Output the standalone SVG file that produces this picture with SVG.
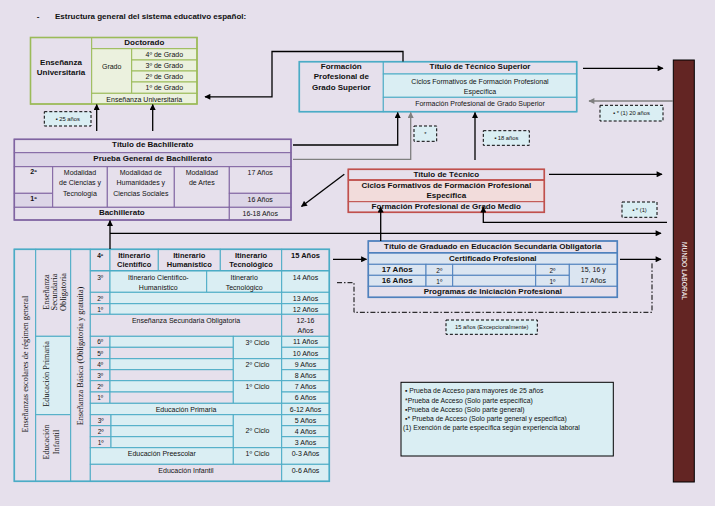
<svg xmlns="http://www.w3.org/2000/svg" width="715" height="506" viewBox="0 0 715 506">
<defs>
<style>
text{font-family:"Liberation Sans",Arial,sans-serif;fill:#111;dominant-baseline:central;text-anchor:middle;font-size:7px}
.b{font-weight:bold}
.h{font-size:8px;font-weight:bold}
.sm{font-size:6.5px}
.xs{font-size:5.8px}
.serif{font-family:"Liberation Serif","Times New Roman",serif;font-size:8.3px}
.bg{fill:#E6E0EC}
.gr{fill:#EBF1DE}
.cy{fill:#DAEEF3}
.lp{fill:#DCD5E7}
.pk{fill:#F2DCDB}
.lb{fill:#DBE5F1}
.g rect{stroke:#9BBB59;stroke-width:1}
.t rect{stroke:#4BACC6;stroke-width:1}
.p rect{stroke:#8064A2;stroke-width:1}
.r rect{stroke:#C0504D;stroke-width:1}
.u rect{stroke:#4F81BD;stroke-width:1}
.outer{fill:none;stroke-width:1.6 !important}
.dl rect{fill:#DAEEF3;stroke:#000;stroke-width:1;stroke-dasharray:3,2}
.c path{fill:none;stroke:#000;stroke-width:1.3}
.c path.gy{stroke:#7F7F7F}
.c path.dd{stroke-dasharray:5,2,1.5,2;stroke-width:1}
.la{text-anchor:start;font-size:6.8px}
</style>
<marker id="ah" viewBox="0 0 10 10" refX="9" refY="5" markerWidth="7" markerHeight="6" markerUnits="userSpaceOnUse" orient="auto"><path d="M0,0 L10,5 L0,10 z" fill="#000"/></marker>
<marker id="ahg" viewBox="0 0 10 10" refX="9" refY="5" markerWidth="7" markerHeight="6" markerUnits="userSpaceOnUse" orient="auto"><path d="M0,0 L10,5 L0,10 z" fill="#7F7F7F"/></marker>
</defs>
<rect x="0" y="0" width="715" height="506" class="bg"/>

<g id="titulo">
<text x="38" y="16" class="b" style="font-size:8px">-</text>
<text x="55" y="16" class="b" style="font-size:8px;text-anchor:start">Estructura general del sistema educativo español:</text>
</g>

<g id="universidad" class="g">
<rect x="30.5" y="37.5" width="61.2" height="66.5" class="bg"/>
<rect x="91.7" y="37.5" width="105.3" height="11.2" class="bg"/>
<rect x="91.7" y="48.7" width="40" height="44.6" class="gr"/>
<rect x="131.7" y="48.7" width="65.3" height="11.3" class="gr"/>
<rect x="131.7" y="60" width="65.3" height="11" class="gr"/>
<rect x="131.7" y="71" width="65.3" height="11" class="gr"/>
<rect x="131.7" y="82" width="65.3" height="11.3" class="gr"/>
<rect x="91.7" y="93.3" width="105.3" height="10.7" class="gr"/>
<rect x="30.5" y="37.5" width="166.5" height="66.5" class="outer"/>
<text x="61" y="62.7" class="h">Enseñanza</text>
<text x="61" y="72.5" class="h">Universitaria</text>
<text x="144.3" y="42.8" class="h">Doctorado</text>
<text x="111.7" y="66">Grado</text>
<text x="164.3" y="54.5">4º de Grado</text>
<text x="164.3" y="65.6">3º de Grado</text>
<text x="164.3" y="76.6">2º de Grado</text>
<text x="164.3" y="87.7">1º de Grado</text>
<text x="144.3" y="99">Enseñanza Universitaria</text>
</g>

<g id="fp-superior" class="t">
<rect x="299.3" y="61.7" width="84" height="50" class="bg"/>
<rect x="383.3" y="61.7" width="193.4" height="12.3" class="bg"/>
<rect x="383.3" y="74" width="193.4" height="23.3" class="cy"/>
<rect x="383.3" y="97.3" width="193.4" height="14.4" class="bg"/>
<rect x="299.3" y="61.7" width="277.4" height="50" class="outer"/>
<text x="341.3" y="66.2" class="h">Formación</text>
<text x="341.3" y="76.8" class="h">Profesional de</text>
<text x="341.3" y="87.4" class="h">Grado Superior</text>
<text x="480" y="66.5" class="h">Título de Técnico Superior</text>
<text x="480" y="81.7">Ciclos Formativos de Formación  Profesional</text>
<text x="480" y="91.7">Específica</text>
<text x="480" y="103.5">Formación Profesional de Grado Superior</text>
</g>

<g id="bachillerato" class="p">
<rect x="14.3" y="139.3" width="276.7" height="13.4" class="bg"/>
<rect x="14.3" y="152.7" width="276.7" height="14" class="lp"/>
<rect x="14.3" y="166.7" width="38.4" height="26.6" class="bg"/>
<rect x="14.3" y="193.3" width="38.4" height="14" class="lp"/>
<rect x="52.7" y="166.7" width="54.6" height="40.6" class="bg"/>
<rect x="107.3" y="166.7" width="67" height="40.6" class="bg"/>
<rect x="174.3" y="166.7" width="55" height="40.6" class="bg"/>
<rect x="229.3" y="166.7" width="61.7" height="26.6" class="bg"/>
<rect x="229.3" y="193.3" width="61.7" height="14" class="lp"/>
<rect x="14.3" y="207.3" width="215" height="12.7" class="bg"/>
<rect x="229.3" y="207.3" width="61.7" height="12.7" class="bg"/>
<rect x="14.3" y="139.3" width="276.7" height="80.7" class="outer"/>
<text x="152.7" y="144.5" class="h">Título de Bachillerato</text>
<text x="152.7" y="158.8" class="h">Prueba General  de Bachillerato</text>
<text x="33.5" y="171.7" class="b">2º</text>
<text x="33.5" y="198.7" class="b">1º</text>
<text x="80" y="172.7">Modalidad</text>
<text x="80" y="182.7">de Ciencias y</text>
<text x="80" y="193">Tecnología</text>
<text x="140.8" y="172.7">Modalidad de</text>
<text x="140.8" y="182.7">Humanidades y</text>
<text x="140.8" y="193">Ciencias Sociales</text>
<text x="201.8" y="172.7">Modalidad</text>
<text x="201.8" y="182.7">de Artes</text>
<text x="260.2" y="172.7">17 Años</text>
<text x="260.2" y="199">16 Años</text>
<text x="121.8" y="212.8" class="h">Bachillerato</text>
<text x="260.2" y="213">16-18 Años</text>
</g>

<g id="fp-medio" class="r">
<rect x="348.3" y="169.3" width="196" height="10.7" class="bg"/>
<rect x="348.3" y="180.3" width="196" height="21.4" class="pk"/>
<rect x="348.3" y="201.7" width="196" height="10.6" class="bg"/>
<rect x="348.3" y="179.2" width="196" height="1.4" style="fill:#C0504D;stroke:none"/>
<rect x="348.3" y="169.3" width="196" height="43" class="outer"/>
<text x="446.3" y="174.2" class="h">Título de Técnico</text>
<text x="446.3" y="185.5" class="h">Ciclos Formativos de Formación Profesional</text>
<text x="446.3" y="195.8" class="h">Específica</text>
<text x="446.3" y="206.8" class="h">Formación Profesional de Grado Medio</text>
</g>

<g id="pcpi" class="u">
<rect x="368.3" y="241" width="249" height="11.7" class="bg"/>
<rect x="368.3" y="253" width="249" height="11.3" class="lb"/>
<rect x="368.3" y="264.3" width="57.7" height="11" class="lb"/>
<rect x="368.3" y="275.3" width="57.7" height="11" class="lb"/>
<rect x="426" y="264.3" width="26.7" height="11" class="lb"/>
<rect x="426" y="275.3" width="26.7" height="11" class="lb"/>
<rect x="452.7" y="264.3" width="83" height="11" class="lb"/>
<rect x="452.7" y="275.3" width="83" height="11" class="lb"/>
<rect x="535.7" y="264.3" width="33.6" height="11" class="lb"/>
<rect x="535.7" y="275.3" width="33.6" height="11" class="lb"/>
<rect x="569.3" y="264.3" width="48" height="22" class="lb"/>
<rect x="368.3" y="286.3" width="249" height="11" class="bg"/>
<rect x="368.3" y="252" width="249" height="1.4" style="fill:#4F81BD;stroke:none"/>
<rect x="368.3" y="241" width="249" height="56.3" class="outer"/>
<text x="492.8" y="246.3" class="h">Título de Graduado en Educación Secundaria Obligatoria</text>
<text x="492.8" y="258.5" class="h">Certificado Profesional</text>
<text x="397.2" y="269.5" class="h">17 Años</text>
<text x="397.2" y="280.5" class="h">16 Años</text>
<text x="439.3" y="270" class="sm">2º</text>
<text x="439.3" y="281" class="sm">1º</text>
<text x="552.5" y="270" class="sm">2º</text>
<text x="552.5" y="281" class="sm">1º</text>
<text x="593.3" y="269.5">15, 16 y</text>
<text x="593.3" y="280.5">17 Años</text>
<text x="492.8" y="291.5" class="h">Programas de Iniciación Profesional</text>
</g>

<g id="ensenanzas-escolares" class="t">
<rect x="14.3" y="249.3" width="21.4" height="232" class="bg"/>
<rect x="35.7" y="249.3" width="35" height="87" class="bg"/>
<rect x="35.7" y="336.3" width="35" height="78.4" class="cy"/>
<rect x="35.7" y="414.7" width="35" height="66.6" class="bg"/>
<rect x="70.7" y="249.3" width="19.6" height="232" class="bg"/>
<!-- 4º ESO -->
<rect x="90.3" y="249.3" width="19.7" height="21.4" class="bg"/>
<rect x="110" y="249.3" width="48.3" height="21.4" class="bg"/>
<rect x="158.3" y="249.3" width="62" height="21.4" class="bg"/>
<rect x="220.3" y="249.3" width="61.4" height="21.4" class="bg"/>
<rect x="281.7" y="249.3" width="47.6" height="21.4" class="bg"/>
<!-- 3º ESO -->
<rect x="90.3" y="270.7" width="19.7" height="21.6" class="bg"/>
<rect x="110" y="270.7" width="96.7" height="21.6" class="cy"/>
<rect x="206.7" y="270.7" width="75" height="21.6" class="cy"/>
<rect x="281.7" y="270.7" width="47.6" height="21.6" class="cy"/>
<rect x="90.3" y="270" width="239" height="1.4" style="fill:#4BACC6;stroke:none"/>
<!-- 2º 1º ESO -->
<rect x="90.3" y="292.3" width="19.7" height="11.4" class="bg"/>
<rect x="110" y="292.3" width="171.7" height="11.4" class="cy"/>
<rect x="281.7" y="292.3" width="47.6" height="11.4" class="cy"/>
<rect x="90.3" y="303.7" width="19.7" height="10.6" class="bg"/>
<rect x="110" y="303.7" width="171.7" height="10.6" class="cy"/>
<rect x="281.7" y="303.7" width="47.6" height="10.6" class="cy"/>
<rect x="90.3" y="314.3" width="191.4" height="22" class="bg"/>
<rect x="281.7" y="314.3" width="47.6" height="22" class="bg"/>
<!-- Primaria -->
<rect x="90.3" y="336.3" width="19.7" height="11" class="bg"/>
<rect x="110" y="336.3" width="123.3" height="11" class="cy"/>
<rect x="90.3" y="347.3" width="19.7" height="11.4" class="bg"/>
<rect x="110" y="347.3" width="123.3" height="11.4" class="bg"/>
<rect x="90.3" y="358.7" width="19.7" height="11" class="bg"/>
<rect x="110" y="358.7" width="123.3" height="11" class="cy"/>
<rect x="90.3" y="369.7" width="19.7" height="11" class="bg"/>
<rect x="110" y="369.7" width="123.3" height="11" class="bg"/>
<rect x="90.3" y="380.7" width="19.7" height="11.3" class="bg"/>
<rect x="110" y="380.7" width="123.3" height="11.3" class="cy"/>
<rect x="90.3" y="392" width="19.7" height="11.3" class="bg"/>
<rect x="110" y="392" width="123.3" height="11.3" class="bg"/>
<rect x="233.3" y="336.3" width="48.4" height="22.4" class="cy"/>
<rect x="233.3" y="358.7" width="48.4" height="22" class="cy"/>
<rect x="233.3" y="380.7" width="48.4" height="22.6" class="cy"/>
<rect x="281.7" y="336.3" width="47.6" height="11" class="cy"/>
<rect x="281.7" y="347.3" width="47.6" height="11.4" class="cy"/>
<rect x="281.7" y="358.7" width="47.6" height="11" class="cy"/>
<rect x="281.7" y="369.7" width="47.6" height="11" class="cy"/>
<rect x="281.7" y="380.7" width="47.6" height="11.3" class="cy"/>
<rect x="281.7" y="392" width="47.6" height="11.3" class="cy"/>
<rect x="90.3" y="403.3" width="191.4" height="11.4" class="cy"/>
<rect x="281.7" y="403.3" width="47.6" height="11.4" class="cy"/>
<!-- Infantil -->
<rect x="90.3" y="414.7" width="20.7" height="11" class="bg"/>
<rect x="111" y="414.7" width="122.3" height="11" class="cy"/>
<rect x="90.3" y="425.7" width="20.7" height="11" class="bg"/>
<rect x="111" y="425.7" width="122.3" height="11" class="cy"/>
<rect x="90.3" y="436.7" width="20.7" height="11" class="bg"/>
<rect x="111" y="436.7" width="122.3" height="11" class="cy"/>
<rect x="233.3" y="414.7" width="48.4" height="33" class="cy"/>
<rect x="281.7" y="414.7" width="47.6" height="11" class="cy"/>
<rect x="281.7" y="425.7" width="47.6" height="11" class="cy"/>
<rect x="281.7" y="436.7" width="47.6" height="11" class="cy"/>
<rect x="90.3" y="447.7" width="143" height="16.6" class="cy"/>
<rect x="233.3" y="447.7" width="48.4" height="16.6" class="cy"/>
<rect x="281.7" y="447.7" width="47.6" height="16.6" class="cy"/>
<rect x="90.3" y="464.3" width="191.4" height="17" class="bg"/>
<rect x="281.7" y="464.3" width="47.6" height="17" class="cy"/>
<rect x="14.3" y="249.3" width="315" height="232" class="outer"/>

<text class="serif" transform="translate(25,364.2) rotate(-90)">Enseñanzas escolares de régimen general</text>
<text class="serif" transform="translate(46.3,292) rotate(-90)">Enseñanza</text>
<text class="serif" transform="translate(54.7,292) rotate(-90)">Secundaria</text>
<text class="serif" transform="translate(63.2,292) rotate(-90)">Obligatoria</text>
<text class="serif" transform="translate(46.5,374) rotate(-90)">Educación  Primaria</text>
<text class="serif" transform="translate(46.7,442) rotate(-90)">Educación</text>
<text class="serif" transform="translate(56.3,442) rotate(-90)">Infantil</text>
<text class="serif" transform="translate(80,356) rotate(-90)">Enseñanza Básica (Obligatoria y gratuita)</text>

<text x="100.2" y="255" class="b sm">4º</text>
<text x="134.2" y="255" class="b" style="font-size:7.5px">Itinerario</text>
<text x="134.2" y="264.3" class="b" style="font-size:7.5px">Científico</text>
<text x="189.3" y="255" class="b" style="font-size:7.5px">Itinerario</text>
<text x="189.3" y="264.3" class="b" style="font-size:7.5px">Humanístico</text>
<text x="251" y="255" class="b" style="font-size:7.5px">Itinerario</text>
<text x="251" y="264.5" class="b" style="font-size:7.5px">Tecnológico</text>
<text x="305.5" y="255" class="b" style="font-size:7.5px">15 Años</text>

<text x="100.2" y="277.3" class="sm">3º</text>
<text x="158.3" y="277.3">Itinerario Científico-</text>
<text x="158.3" y="287.6">Humanístico</text>
<text x="244.2" y="277.3">Itinerario</text>
<text x="244.2" y="287.6">Tecnológico</text>
<text x="305.5" y="277.3">14 Años</text>
<text x="100.2" y="298" class="sm">2º</text>
<text x="305.5" y="298">13 Años</text>
<text x="100.2" y="309" class="sm">1º</text>
<text x="305.5" y="309">12 Años</text>
<text x="186" y="320">Enseñanza Secundaria Obligatoria</text>
<text x="305.5" y="320">12-16</text>
<text x="305.5" y="330">Años</text>

<text x="100.2" y="341.8" class="sm">6º</text>
<text x="100.2" y="353" class="sm">5º</text>
<text x="100.2" y="364.2" class="sm">4º</text>
<text x="100.2" y="375.2" class="sm">3º</text>
<text x="100.2" y="386.3" class="sm">2º</text>
<text x="100.2" y="397.7" class="sm">1º</text>
<text x="257.5" y="342.7">3º Ciclo</text>
<text x="257.5" y="364.5">2º Ciclo</text>
<text x="257.5" y="386.7">1º Ciclo</text>
<text x="305.5" y="341.8">11 Años</text>
<text x="305.5" y="353">10 Años</text>
<text x="305.5" y="364.2">9 Años</text>
<text x="305.5" y="375.2">8 Años</text>
<text x="305.5" y="386.3">7 Años</text>
<text x="305.5" y="397.7">6 Años</text>
<text x="186" y="409">Educación  Primaria</text>
<text x="305.5" y="409">6-12 Años</text>

<text x="100.7" y="420.2" class="sm">3º</text>
<text x="100.7" y="431.2" class="sm">2º</text>
<text x="100.7" y="442.2" class="sm">1º</text>
<text x="257.5" y="430.5">2º Ciclo</text>
<text x="305.5" y="420.2">5 Años</text>
<text x="305.5" y="431.2">4 Años</text>
<text x="305.5" y="442.2">3 Años</text>
<text x="161.8" y="453.3">Educación  Preescolar</text>
<text x="257.5" y="453.3">1º Ciclo</text>
<text x="305.5" y="453.3">0-3 Años</text>
<text x="186" y="470.3">Educación  Infantil</text>
<text x="305.5" y="470.3">0-6 Años</text>
</g>

<g id="mundo-laboral">
<rect x="673.3" y="60" width="21" height="422" fill="#632523" stroke="#000" stroke-width="1"/>
<text transform="translate(684,271) rotate(90)" style="fill:#fff;font-size:6.7px">MUNDO LABORAL</text>
</g>

<g id="leyenda">
<rect x="401" y="382.3" width="212.3" height="73.7" fill="#DAEEF3" stroke="#000" stroke-width="1"/>
<text x="405" y="390" class="la">▪ Prueba de Acceso  para mayores de 25 años</text>
<text x="405" y="400.3" class="la">*Prueba de Acceso (Solo parte específica)</text>
<text x="405" y="409.3" class="la">▪Prueba de Acceso (Solo parte general)</text>
<text x="405" y="418" class="la">▪* Prueba de Acceso (Solo parte general y específica)</text>
<text x="403" y="427.2" class="la">(1) Exención de parte específica  según experiencia laboral</text>
</g>

<g id="etiquetas" class="dl">
<rect x="44.3" y="111.7" width="46.7" height="14.3"/>
<text x="67.7" y="118.8" class="xs">▪ 25 años</text>
<rect x="414" y="126" width="22.7" height="15.3"/>
<text x="425.3" y="133.7" class="xs">*</text>
<rect x="483.3" y="130.7" width="46" height="14.6"/>
<text x="506.3" y="138" class="xs">▪ 18 años</text>
<rect x="600" y="105.3" width="63" height="15.7"/>
<text x="631.5" y="113.2" class="xs">▪ * (1) 20 años</text>
<rect x="622" y="202" width="35" height="15.3"/>
<text x="639.5" y="209.7" class="xs">▪ * (1)</text>
<rect x="446" y="320" width="91.3" height="14.3"/>
<text x="491.7" y="327.2" class="xs">15 años (Excepcionalmente)</text>
</g>

<g id="conectores" class="c">
<path d="M403,61.5 V51.5 H272 V96.8 H205" marker-end="url(#ah)"/>
<path d="M96.7,131 V104.5" marker-end="url(#ah)"/>
<path d="M152.7,131 V104.5" marker-end="url(#ah)"/>
<path d="M293,145 H397.7 V112.5" marker-end="url(#ah)"/>
<path d="M293,159.3 H410.7 V112.5" class="gy" marker-end="url(#ahg)"/>
<path d="M475,160 V112.5" marker-end="url(#ah)"/>
<path d="M583,68.3 H663" marker-end="url(#ah)"/>
<path d="M673,101 H589" class="gy" marker-end="url(#ahg)"/>
<path d="M344.3,174.3 L301.5,206.5" marker-end="url(#ah)"/>
<path d="M549,174.3 H662" marker-end="url(#ah)"/>
<path d="M667,222.3 H483.3 V207" marker-end="url(#ah)"/>
<path d="M380.7,241 V207" marker-end="url(#ah)"/>
<path d="M110,249 V220.5" marker-end="url(#ah)"/>
<path d="M110,233.3 H661" marker-end="url(#ah)"/>
<path d="M333,259.3 H366.5" marker-end="url(#ah)"/>
<path d="M620,259.3 H661" marker-end="url(#ah)"/>
<path d="M337,282.7 H354 V312.3 H652 V262" class="dd"/>
</g>
</svg>
